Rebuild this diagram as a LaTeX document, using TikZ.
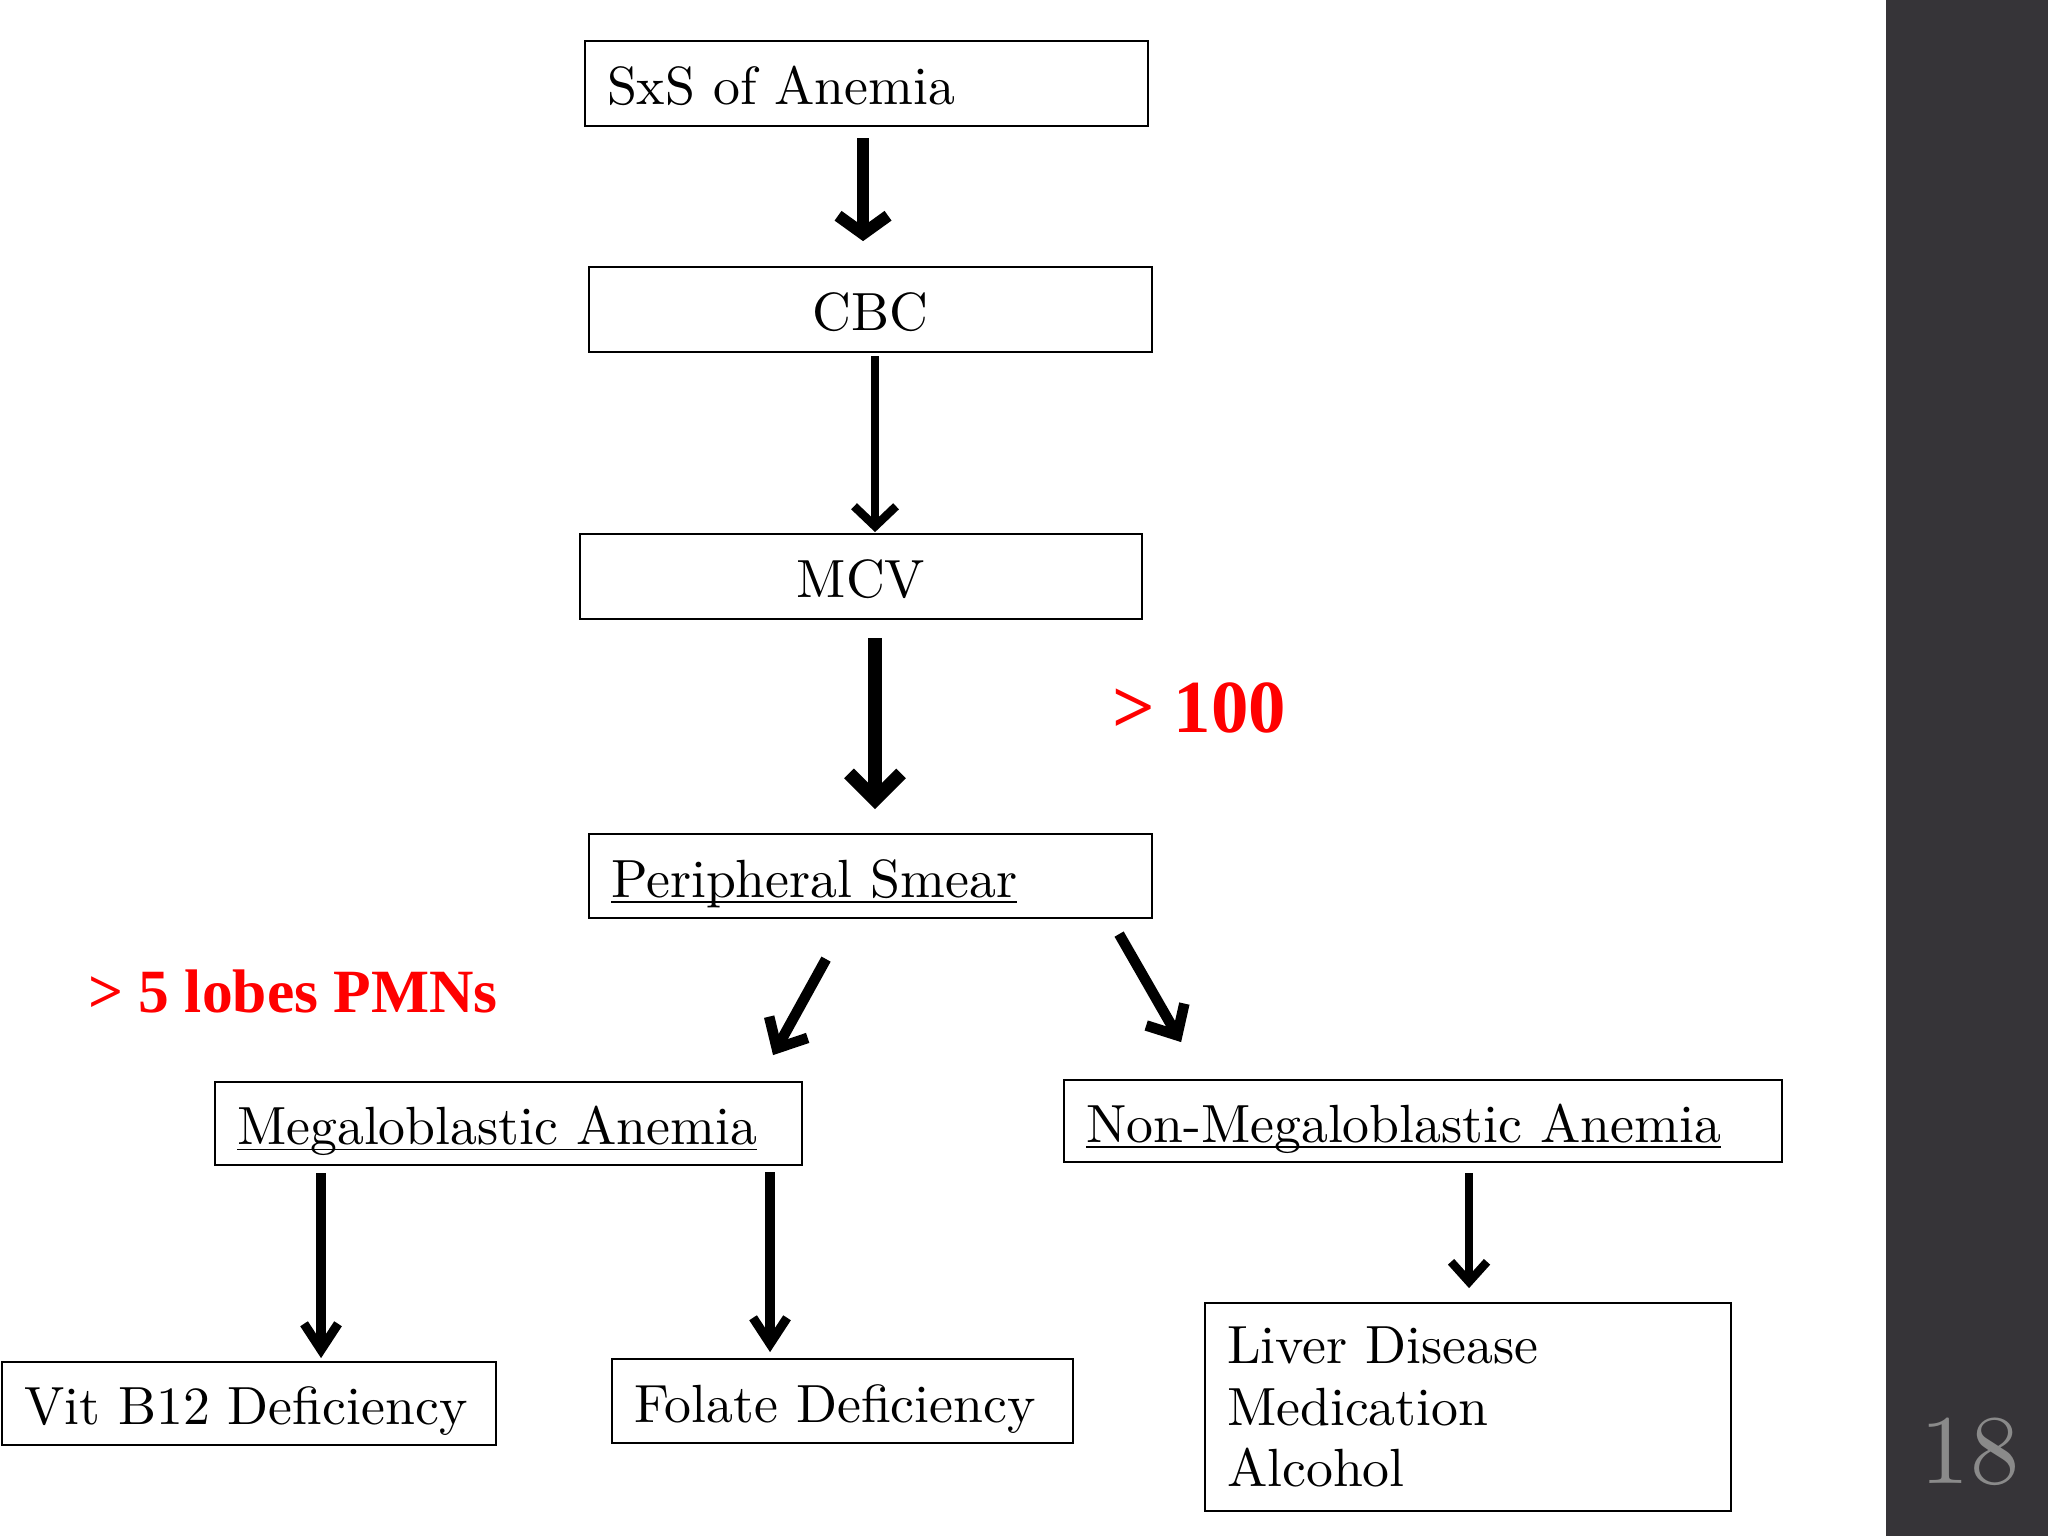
\documentclass[tikz,border=0pt]{standalone}
\usepackage{fontspec}
\usepackage{xcolor}
\usepackage{tikz}
\usetikzlibrary{arrows.meta}

\newfontfamily\notefont{Liberation Serif}
\newfontfamily\boxrm{lmroman10-regular.otf}
\newcommand{\boxfont}{\boxrm\fontsize{15.3}{17.4}\selectfont}
\newcommand{\ulabel}[1]{\underline{\raisebox{0pt}[\height][0pt]{#1}}}
\definecolor{barcol}{HTML}{363438}
\definecolor{numcol}{HTML}{8A8A8A}

\begin{document}
\begin{tikzpicture}[
  box/.style={draw, line width=0.6pt, inner xsep=0.22cm, inner ysep=0pt,
    anchor=north west, font=\boxfont, text height=0.42cm, text depth=0cm},
  lbox/.style={box, align=left},
  cbox/.style={box, align=center},
  arr/.style={line width=3.4pt, -{Straight Barb[length=1.8mm,width=5mm]}},
  note/.style={text=red, font=\notefont\bfseries\fontsize{17.5}{20}\selectfont, anchor=base west}
]
  \useasboundingbox (0,0) rectangle (20.48,-15.36);
  \fill[white] (0,0) rectangle (18.86,-15.36);
  \fill[barcol] (18.86,0) rectangle (20.48,-15.36);
  \node[text=numcol, font=\boxrm\fontsize{28}{32}\selectfont] (page) at (19.70,-14.52) {18};

  % boxes
  \node[lbox, text width=5.19cm, minimum height=0.85cm] (sxs) at (5.84,-0.40) {SxS of Anemia};
  \node[cbox, text width=5.19cm, minimum height=0.85cm] (cbc) at (5.88,-2.66) {CBC};
  \node[cbox, text width=5.18cm, minimum height=0.85cm] (mcv) at (5.79,-5.33) {MCV};
  \node[lbox, text width=5.19cm, minimum height=0.84cm] (smear) at (5.88,-8.33) {\ulabel{Peripheral Smear}};
  \node[lbox, text width=5.43cm, minimum height=0.83cm] (mega) at (2.14,-10.81) {\ulabel{Megaloblastic Anemia}};
  \node[lbox, text width=6.74cm, minimum height=0.82cm] (nonmega) at (10.63,-10.79) {\ulabel{Non-Megaloblastic Anemia}};
  \node[lbox, text width=4.50cm, minimum height=0.83cm] (vitb) at (0.01,-13.61) {Vit B12 Deficiency};
  \node[lbox, text width=4.17cm, minimum height=0.84cm] (folate) at (6.11,-13.58) {Folate Deficiency};
  \node[draw, line width=0.6pt, anchor=north west, align=left, font=\boxfont,
    inner xsep=0.22cm, text width=4.82cm, minimum height=2.08cm] (liver) at (12.04,-13.02)
    {Liver Disease\\Medication\\Alcohol};

  % red notes
  \node[note, font=\notefont\bfseries\fontsize{21.3}{24}\selectfont] (over) at (11.0,-7.33) {> 100};
  \node[note] (lobes) at (0.76,-10.12) {> 5 lobes PMNs};

  % arrows
  \draw[arr] ([shift={(-0.035,-0.11)}]sxs.south) -- ++(0,-1.03);
  \draw[arr, line width=2.4pt, -{Straight Barb[length=2mm,width=4.2mm]}] ([shift={(0.045,-0.03)}]cbc.south) -- ++(0,-1.76);
  \draw[arr, line width=3.9pt, -{Straight Barb[length=2.6mm,width=5.2mm]}] ([shift={(0.14,-0.18)}]mcv.south) -- ++(0,-1.71);
  \draw[arr, line width=3pt, -{Straight Barb[length=2.4mm,width=4.4mm]}] ([shift={(-0.445,-0.40)}]smear.south) -- ++(-0.53,-0.96);
  \draw[arr, line width=3pt, -{Straight Barb[length=2.4mm,width=4.4mm]}] ([shift={(-0.34,-0.15)}]smear.south east) -- ++(0.62,-1.08);
  \draw[arr, line width=2.6pt, -{Straight Barb[length=2.6mm,width=3.4mm]}] ([shift={(-1.875,-0.07)}]mega.south) -- ++(0,-1.85);
  \draw[arr, line width=2.6pt, -{Straight Barb[length=2.6mm,width=3.4mm]}] ([shift={(2.615,-0.06)}]mega.south) -- ++(0,-1.80);
  \draw[arr, line width=2.4pt, -{Straight Barb[length=2mm,width=3.6mm]}] ([shift={(0.46,-0.10)}]nonmega.south) -- ++(0,-1.15);
\end{tikzpicture}
\end{document}
